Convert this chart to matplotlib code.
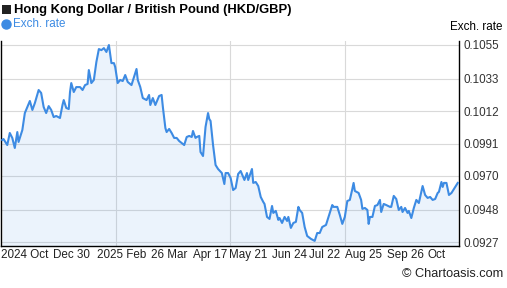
import matplotlib.pyplot as plt
from matplotlib.lines import Line2D
from matplotlib.patches import Rectangle

plt.rcParams['font.family'] = ['Liberation Sans', 'DejaVu Sans']

# HKD/GBP (day offset from start, rate)
days = [1, 2, 5, 7, 9, 11, 13, 14, 17, 19,
        23, 25, 27, 30, 32, 34, 36, 38, 40, 42,
        44, 47, 49, 50, 52, 54, 55, 56, 58, 60,
        63, 65, 67, 69, 70, 72, 74, 76, 78, 80,
        82, 84, 86, 88, 90, 91, 93, 95, 97, 99,
        101, 104, 106, 108, 109, 111, 113, 116, 118, 119,
        121, 123, 125, 126, 128, 129, 131, 132, 134, 136,
        138, 140, 142, 144, 146, 148, 150, 152, 153, 155,
        156, 158, 159, 161, 163, 165, 166, 167, 169, 171,
        173, 176, 178, 179, 181,
        183, 185, 187, 189, 191, 194, 196, 197, 200, 201,
        203, 205, 207, 209, 210, 212, 214, 216, 217, 219,
        221, 222, 224, 226, 228, 229, 231, 233, 235, 237,
        238, 240, 242, 244, 247, 250, 252, 254, 256, 259,
        261, 264, 265, 268, 270, 272, 274, 276, 278, 280,
        281, 282, 285, 287, 288, 290, 292, 293, 294, 296,
        298, 300, 302, 303, 305, 307, 310, 311, 313, 315,
        317, 319, 320, 322, 324, 325, 327, 329, 331, 333,
        336, 338, 340, 342, 344, 346, 348, 349, 351, 352,
        353, 355, 357, 359, 362, 364]

rates = [0.09933, 0.09939, 0.09900, 0.09978, 0.09946, 0.09881, 0.09984, 0.09920, 0.09997, 0.10107,
         0.10185, 0.10127, 0.10172, 0.10256, 0.10237, 0.10146, 0.10107, 0.10152, 0.10127, 0.10081,
         0.10088, 0.10075, 0.10159, 0.10191, 0.10140, 0.10133, 0.10243, 0.10301, 0.10243, 0.10275,
         0.10275, 0.10256, 0.10288, 0.10295, 0.10385, 0.10301, 0.10321, 0.10437, 0.10521, 0.10514,
         0.10527, 0.10502, 0.10547, 0.10430, 0.10430, 0.10405, 0.10301, 0.10321, 0.10314, 0.10353,
         0.10308, 0.10288, 0.10340, 0.10392, 0.10321, 0.10275, 0.10204, 0.10191, 0.10224, 0.10159,
         0.10204, 0.10159, 0.10198, 0.10217, 0.10224, 0.10146, 0.10010, 0.09984, 0.10004, 0.09978,
         0.09946, 0.09946, 0.09926, 0.09913, 0.09900, 0.09952, 0.09959, 0.09952, 0.09991, 0.09946,
         0.09952, 0.09959, 0.09855, 0.09829, 0.10017, 0.10107, 0.10068, 0.10056, 0.09900, 0.09771,
         0.09745, 0.09719, 0.09648, 0.09719, 0.09719,
         0.09687, 0.09609, 0.09622, 0.09713, 0.09732, 0.09674, 0.09719, 0.09674, 0.09745, 0.09655,
         0.09661, 0.09635, 0.09564, 0.09532, 0.09519, 0.09435, 0.09422, 0.09506, 0.09461, 0.09474,
         0.09416, 0.09428, 0.09396, 0.09435, 0.09409, 0.09435, 0.09364, 0.09396, 0.09403, 0.09500,
         0.09480, 0.09461, 0.09370, 0.09312, 0.09293, 0.09280, 0.09331, 0.09331, 0.09370, 0.09383,
         0.09435, 0.09512, 0.09500, 0.09500, 0.09448, 0.09390, 0.09435, 0.09538, 0.09545, 0.09616,
         0.09655, 0.09603, 0.09590, 0.09545, 0.09487, 0.09493, 0.09480, 0.09390, 0.09435, 0.09435,
         0.09506, 0.09512, 0.09545, 0.09467, 0.09519, 0.09512, 0.09500, 0.09500, 0.09571, 0.09551,
         0.09480, 0.09500, 0.09467, 0.09493, 0.09461, 0.09474, 0.09428, 0.09493, 0.09545, 0.09525,
         0.09635, 0.09577, 0.09558, 0.09564, 0.09545, 0.09551, 0.09590, 0.09597, 0.09661, 0.09629,
         0.09655, 0.09655, 0.09577, 0.09590, 0.09629, 0.09655]

x_labels = ["2024 Oct", "Dec 30", "2025 Feb", "26 Mar", "Apr 17", "May 21",
            "Jun 24", "Jul 22", "Aug 25", "Sep 26", "Oct"]
x_label_days = [19, 56, 96, 134, 167, 197, 230, 258, 289, 322, 347]
x_grid_days = [91.25, 182.5, 273.75]
y_ticks = [0.0927, 0.0948, 0.0970, 0.0991, 0.1012, 0.1033, 0.1055]

title = "Hong Kong Dollar / British Pound (HKD/GBP)"
series_name = "Exch. rate"

W, H = 507, 288
blue = '#3d8be3'
grid = '#d9d9d9'
fs = 8.4

fig = plt.figure(figsize=(W / 100, H / 100), dpi=100)
ax = fig.add_axes([1 / W, 42 / H, 458 / W, 205 / H])

ax.fill_between(days, rates, 0.09, color=blue, alpha=0.1, lw=0, zorder=2)
ax.plot(days, rates, color=blue, lw=1.5, zorder=3, solid_joinstyle='round')

ax.set_xlim(0, 365)
ax.set_ylim(0.09247, 0.10573)

ax.set_xticks(x_label_days)
ax.set_xticklabels(x_labels)
ax.set_xticks(x_grid_days, minor=True)
ax.set_yticks(y_ticks)
ax.set_yticklabels([f"{v:.4f}" for v in y_ticks])
ax.yaxis.tick_right()
ax.tick_params(axis='x', which='both', length=0, pad=2.5, labelsize=fs, labelcolor='#222222')
ax.tick_params(axis='y', length=0, pad=3.5, labelsize=fs, labelcolor='#333333')
ax.grid(axis='y', color=grid, lw=0.8, zorder=1)
ax.grid(axis='x', which='minor', color=grid, lw=0.8, zorder=1)
ax.set_axisbelow(True)

for s in ['left', 'bottom', 'right']:
    ax.spines[s].set_color('black')
    ax.spines[s].set_linewidth(1.0)
ax.spines['top'].set_visible(False)

# header
fig.patches.append(Rectangle((2 / W, 1 - 14 / H), 9 / W, 9 / H, transform=fig.transFigure,
                             color='#222222', lw=0))
fig.text(14 / W, 1 - 9.5 / H, title, fontsize=9.4, fontweight='bold', va='center', ha='left')
fig.lines.append(Line2D([5.5 / W], [1 - 24 / H], marker='o', markersize=6.5, color=blue,
                        lw=0, transform=fig.transFigure))
fig.text(13 / W, 1 - 24 / H, series_name, fontsize=fs, color=blue, va='center', ha='left')
fig.text(503 / W, 1 - 27 / H, series_name, fontsize=fs, va='center', ha='right')
fig.text(503 / W, 1 - 274 / H, "\u00a9 Chartoasis.com", fontsize=9.2, va='center', ha='right',
         color='#222222')

fig.savefig('out.png', dpi=100)
